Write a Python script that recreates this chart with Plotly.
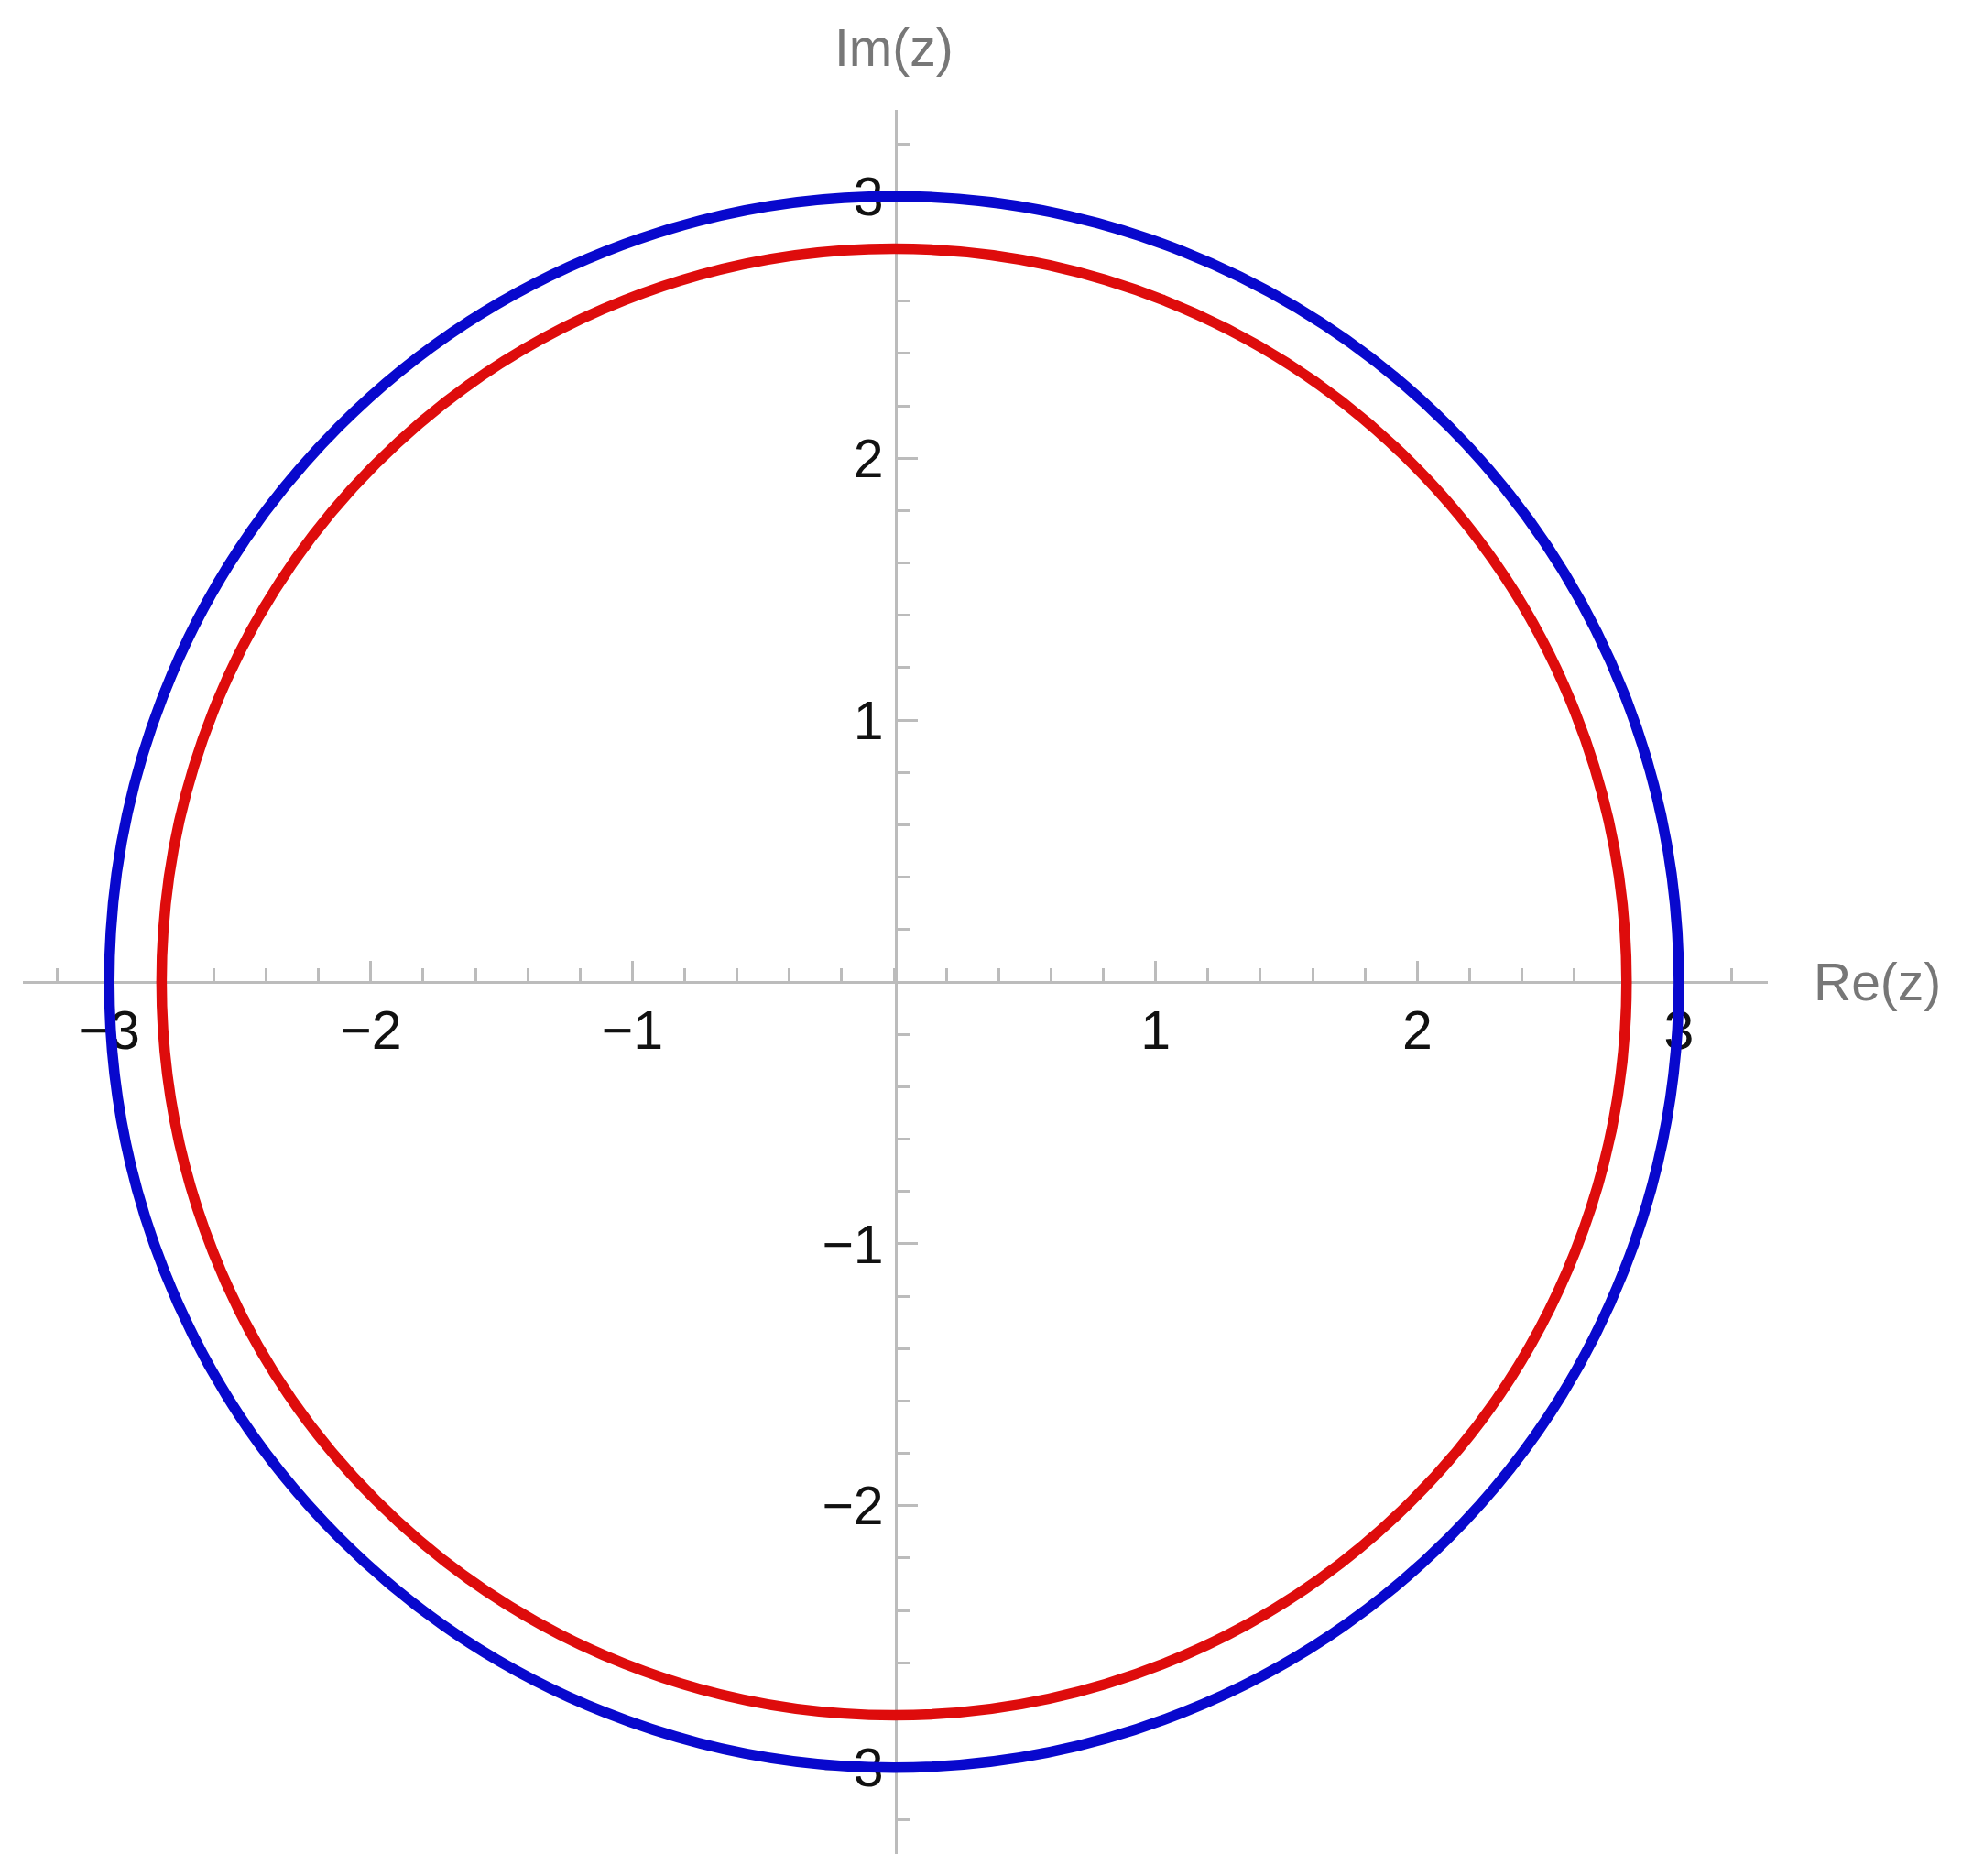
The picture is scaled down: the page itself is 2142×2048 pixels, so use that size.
import plotly.graph_objects as go

# curves in the complex plane: |z| = r
curve_colors = ["rgb(8,8,205)", "rgb(222,12,12)"]
curve_radii = [3.0, 2.8]
curve_center_re = [0.0, 0.0]
curve_center_im = [0.0, 0.0]

tick_vals = [-3, -2, -1, 1, 2, 3]
tick_text = ["\u22123", "\u22122", "\u22121", "1", "2", "3"]

re_range = [-3.33, 3.34]
im_range = [-3.33, 3.33]

axis_gray = "#bcbcbc"
font_family = "Liberation Sans, Arial, sans-serif"

fig = go.Figure()

# invisible trace so the axes get drawn
fig.add_trace(go.Scatter(x=[0], y=[0], mode="markers", marker=dict(opacity=0), showlegend=False,
                         hoverinfo="skip"))

for color, r, cx, cy in zip(curve_colors, curve_radii, curve_center_re, curve_center_im):
    fig.add_shape(type="circle", xref="x", yref="y", x0=cx - r, x1=cx + r, y0=cy - r, y1=cy + r,
                  line=dict(color=color, width=11.5), layer="above")

axis_common = dict(
    showgrid=False, zeroline=False, showline=True, linecolor=axis_gray, linewidth=3,
    tickmode="array", tickvals=tick_vals, ticktext=tick_text,
    ticks="inside", ticklen=22, tickwidth=3, tickcolor=axis_gray,
    minor=dict(ticks="inside", dtick=0.2, tick0=0, ticklen=14, tickwidth=3, tickcolor=axis_gray),
    tickfont=dict(family=font_family, size=59, color="#111111"),
    anchor="free", position=0.5,
)

# page body adds ~8px, so the margins are pulled in by that much
fig.update_layout(
    width=2142, height=2048,
    margin=dict(l=17, r=220, t=112, b=32),
    plot_bgcolor="white", paper_bgcolor="white",
    xaxis=dict(range=re_range, side="bottom", **axis_common),
    yaxis=dict(range=im_range, side="left", **axis_common),
    annotations=[
        dict(text="Re(z)", xref="paper", yref="y", x=1, y=0, xanchor="left", yanchor="middle",
             xshift=48, showarrow=False, font=dict(family=font_family, size=57, color="#777777")),
        dict(text="Im(z)", xref="x", yref="paper", x=0, y=1, xanchor="center", yanchor="middle",
             yshift=68, showarrow=False, font=dict(family=font_family, size=57, color="#777777")),
    ],
)

fig.write_html("out.html")
